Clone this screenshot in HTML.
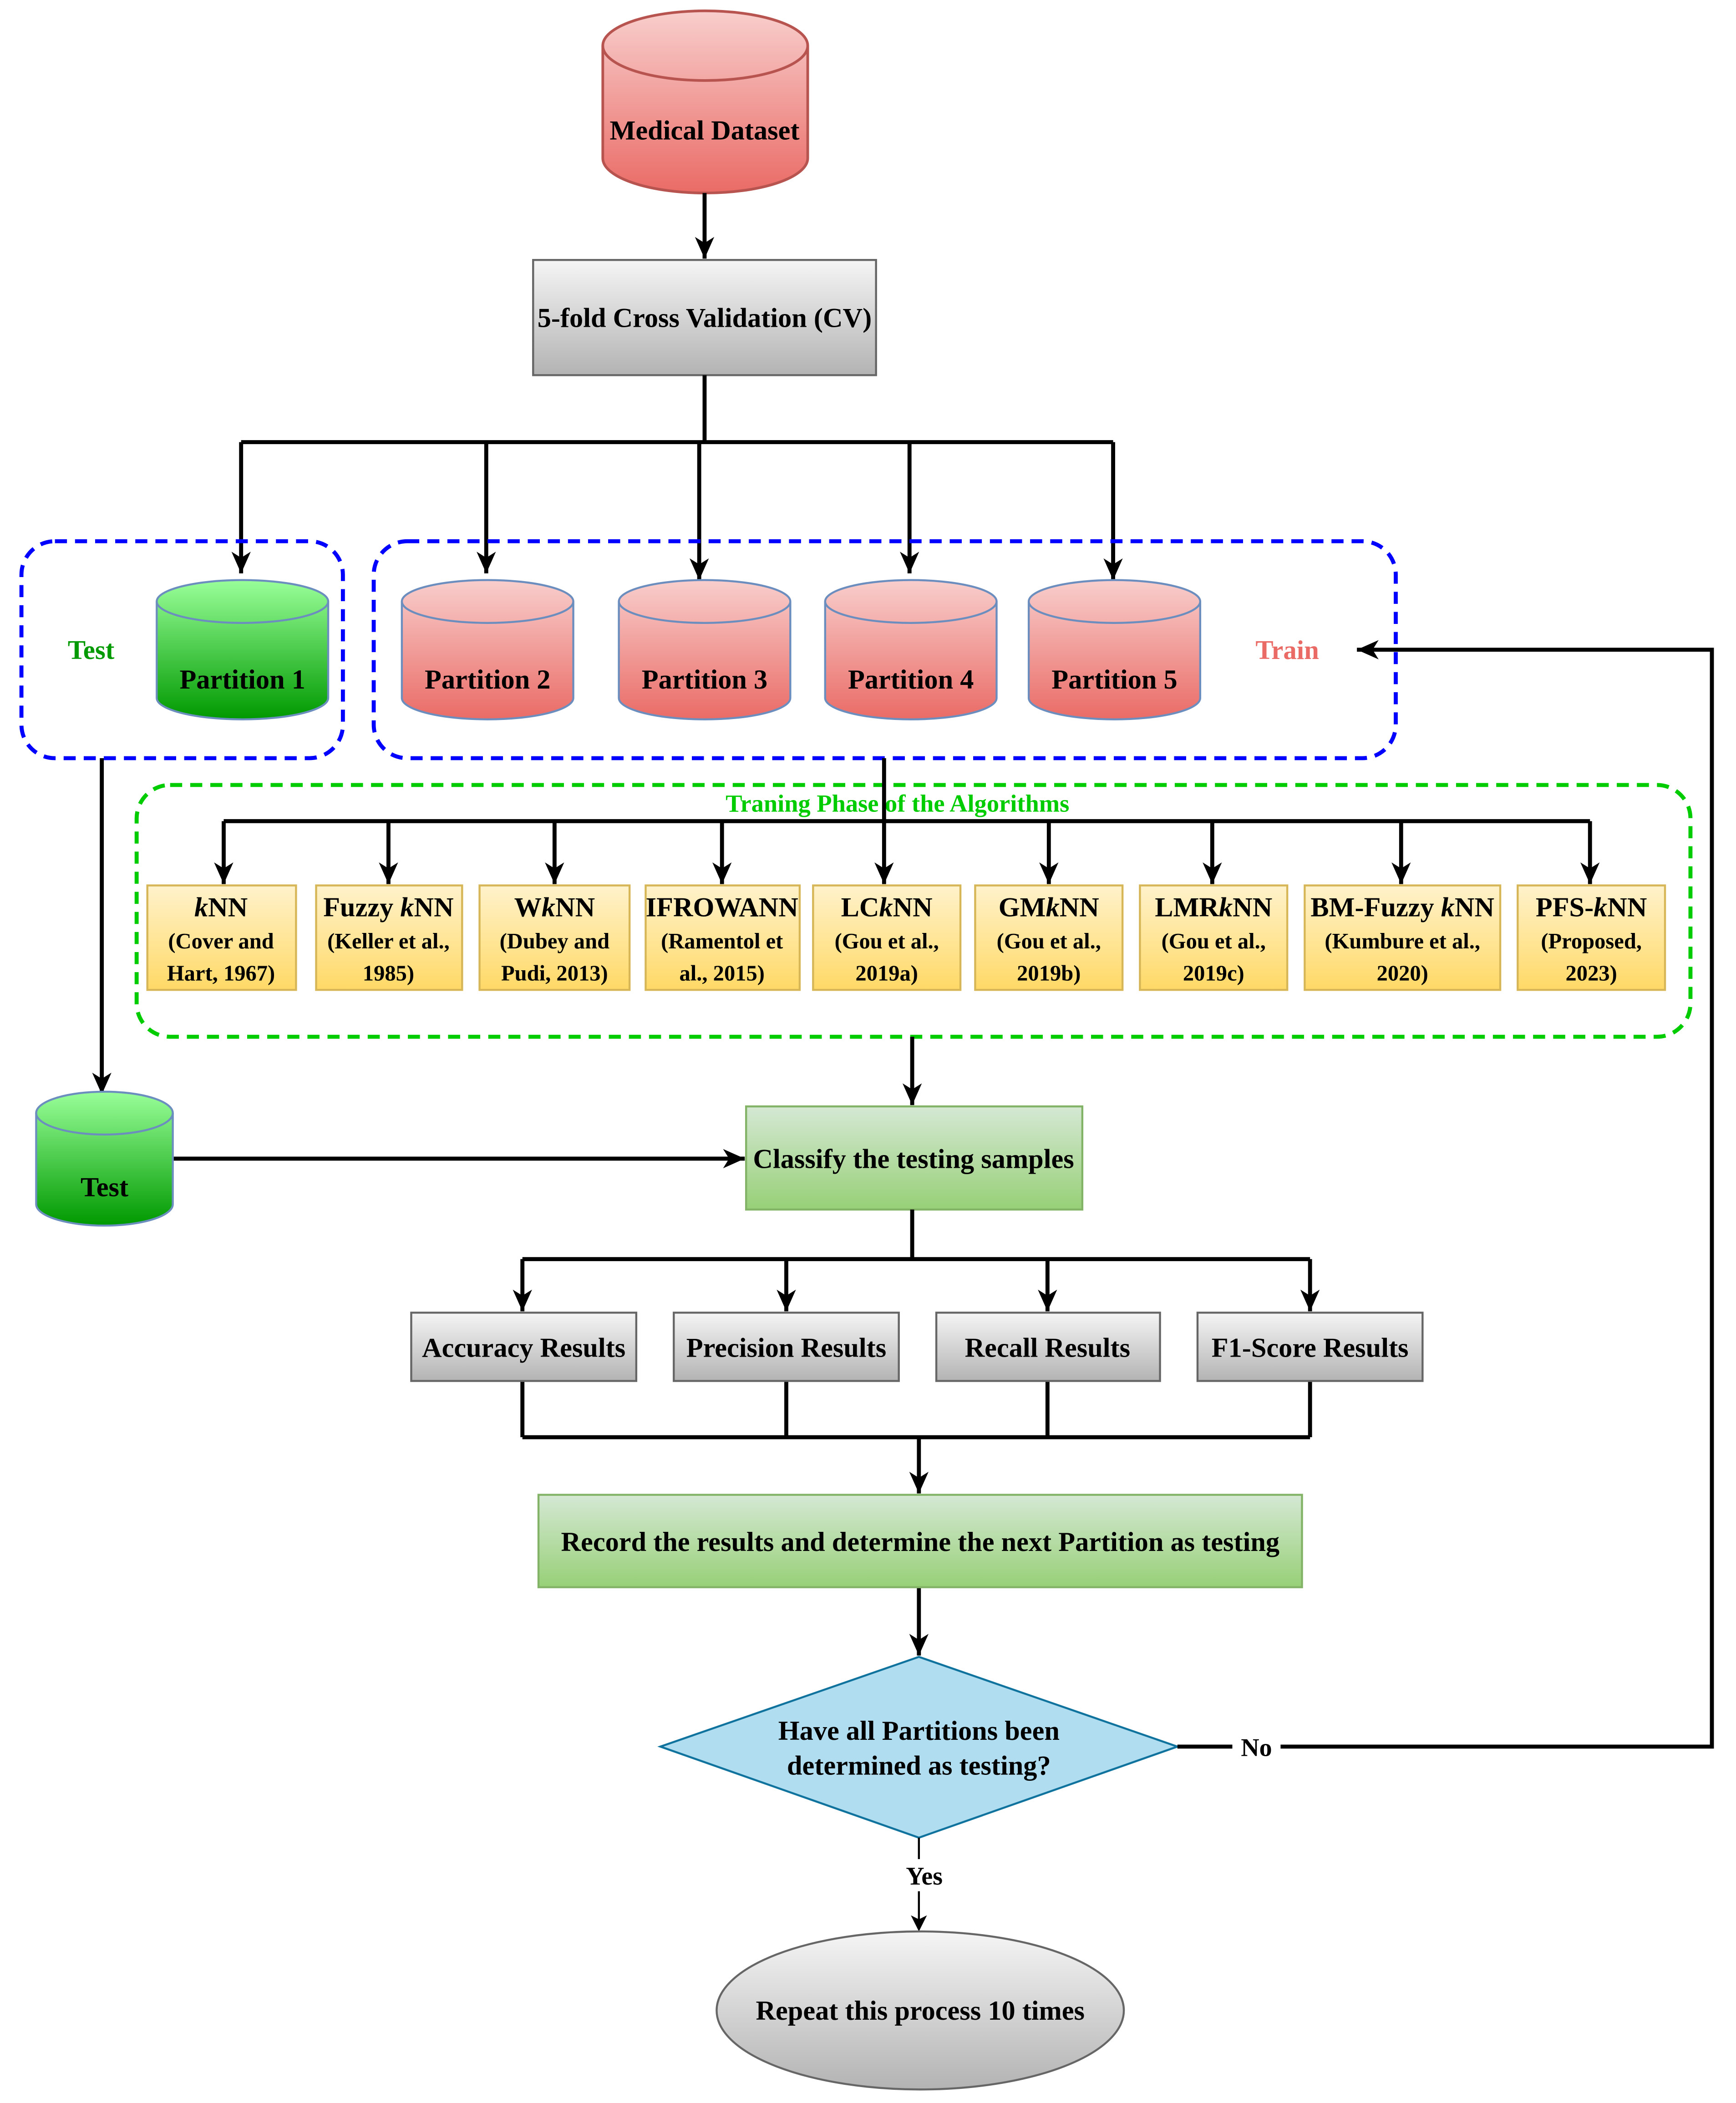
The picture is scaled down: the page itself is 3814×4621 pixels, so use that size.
<!DOCTYPE html>
<html><head><meta charset="utf-8"><style>
html,body{margin:0;padding:0;background:#fff}
svg{display:block}
text{font-family:"Liberation Serif",serif;font-weight:bold;fill:#000}
</style></head><body>
<svg width="3814" height="4621" viewBox="0 0 1296 1570" xmlns="http://www.w3.org/2000/svg">
<defs>
<linearGradient id="red" x1="0" y1="0" x2="0" y2="1"><stop offset="0" stop-color="#f8cecc"/><stop offset="1" stop-color="#ea6b66"/></linearGradient>
<linearGradient id="grn" x1="0" y1="0" x2="0" y2="1"><stop offset="0" stop-color="#99ff99"/><stop offset="1" stop-color="#009900"/></linearGradient>
<linearGradient id="gray" x1="0" y1="0" x2="0" y2="1"><stop offset="0" stop-color="#f5f5f5"/><stop offset="1" stop-color="#b3b3b3"/></linearGradient>
<linearGradient id="yel" x1="0" y1="0" x2="0" y2="1"><stop offset="0" stop-color="#fff2cc"/><stop offset="1" stop-color="#ffd966"/></linearGradient>
<linearGradient id="lg" x1="0" y1="0" x2="0" y2="1"><stop offset="0" stop-color="#d5e8d4"/><stop offset="1" stop-color="#97d077"/></linearGradient>
<marker id="a2" viewBox="0 0 20 20" refX="18" refY="10" markerWidth="18" markerHeight="18" orient="auto" markerUnits="userSpaceOnUse"><path d="M0,2 L18,10 L0,18 L5,10Z" fill="#000"/></marker>
</defs>

<!-- Medical dataset -->
<path d="M450,34 A76.5,26 0 0 1 603,34 L603,118 A76.5,26 0 0 1 450,118 Z" fill="url(#red)" stroke="#b85450" stroke-width="2"/>
<path d="M450,34 A76.5,26 0 0 0 603,34" fill="none" stroke="#b85450" stroke-width="2"/>
<text x="526" y="104" font-size="20.5" text-anchor="middle">Medical Dataset</text>

<g stroke="#000" stroke-width="3" fill="none">
<line x1="526" y1="144" x2="526" y2="193" marker-end="url(#a2)"/>
</g>
<rect x="398" y="194" width="256" height="86" fill="url(#gray)" stroke="#666" stroke-width="1.5"/>
<text x="526" y="244" font-size="20.5" text-anchor="middle">5-fold Cross Validation (CV)</text>

<g stroke="#000" stroke-width="3" fill="none">
<polyline points="526,280 526,330"/>
<line x1="180" y1="330" x2="831" y2="330"/>
<line x1="180" y1="330" x2="180" y2="428" marker-end="url(#a2)"/>
<line x1="363" y1="330" x2="363" y2="428" marker-end="url(#a2)"/>
<line x1="522" y1="330" x2="522" y2="433" marker-end="url(#a2)"/>
<line x1="679" y1="330" x2="679" y2="428" marker-end="url(#a2)"/>
<line x1="831" y1="330" x2="831" y2="433" marker-end="url(#a2)"/>
</g>

<rect x="16" y="404" width="240" height="162" rx="25" fill="none" stroke="#0000ff" stroke-width="3" stroke-dasharray="9,6"/>
<rect x="279" y="404" width="763" height="162" rx="25" fill="none" stroke="#0000ff" stroke-width="3" stroke-dasharray="9,6"/>
<text x="68" y="492" font-size="20" text-anchor="middle" style="fill:#009900">Test</text>
<text x="961" y="492" font-size="20" text-anchor="middle" style="fill:#ea6b66">Train</text>

<g stroke-width="1.5" stroke="#6c8ebf">
<path d="M117,449 A64,16 0 0 1 245,449 L245,521 A64,16 0 0 1 117,521 Z" fill="url(#grn)"/>
<path d="M117,449 A64,16 0 0 0 245,449" fill="none"/>
<path d="M300,449 A64,16 0 0 1 428,449 L428,521 A64,16 0 0 1 300,521 Z" fill="url(#red)"/>
<path d="M300,449 A64,16 0 0 0 428,449" fill="none"/>
<path d="M462,449 A64,16 0 0 1 590,449 L590,521 A64,16 0 0 1 462,521 Z" fill="url(#red)"/>
<path d="M462,449 A64,16 0 0 0 590,449" fill="none"/>
<path d="M616,449 A64,16 0 0 1 744,449 L744,521 A64,16 0 0 1 616,521 Z" fill="url(#red)"/>
<path d="M616,449 A64,16 0 0 0 744,449" fill="none"/>
<path d="M768,449 A64,16 0 0 1 896,449 L896,521 A64,16 0 0 1 768,521 Z" fill="url(#red)"/>
<path d="M768,449 A64,16 0 0 0 896,449" fill="none"/>
</g>
<g font-size="20.5" text-anchor="middle">
<text x="181" y="514">Partition 1</text>
<text x="364" y="514">Partition 2</text>
<text x="526" y="514">Partition 3</text>
<text x="680" y="514">Partition 4</text>
<text x="832" y="514">Partition 5</text>
</g>

<rect x="102" y="586" width="1160" height="188" rx="25" fill="none" stroke="#00cc00" stroke-width="3" stroke-dasharray="9,6"/>
<text x="670" y="606" font-size="18.5" text-anchor="middle" style="fill:#00cc00">Traning Phase of the Algorithms</text>

<g stroke="#000" stroke-width="3" fill="none">
<line x1="660" y1="566" x2="660" y2="613"/>
<line x1="167" y1="613" x2="1187" y2="613"/>
<line x1="167" y1="613" x2="167" y2="660" marker-end="url(#a2)"/>
<line x1="290" y1="613" x2="290" y2="660" marker-end="url(#a2)"/>
<line x1="414" y1="613" x2="414" y2="660" marker-end="url(#a2)"/>
<line x1="539" y1="613" x2="539" y2="660" marker-end="url(#a2)"/>
<line x1="660" y1="613" x2="660" y2="660" marker-end="url(#a2)"/>
<line x1="783" y1="613" x2="783" y2="660" marker-end="url(#a2)"/>
<line x1="905" y1="613" x2="905" y2="660" marker-end="url(#a2)"/>
<line x1="1046" y1="613" x2="1046" y2="660" marker-end="url(#a2)"/>
<line x1="1187" y1="613" x2="1187" y2="660" marker-end="url(#a2)"/>
</g>

<g fill="url(#yel)" stroke="#d6b656" stroke-width="1.5">
<rect x="110" y="661" width="111" height="78"/>
<rect x="236" y="661" width="109" height="78"/>
<rect x="358" y="661" width="112" height="78"/>
<rect x="482" y="661" width="115" height="78"/>
<rect x="607" y="661" width="110" height="78"/>
<rect x="728" y="661" width="110" height="78"/>
<rect x="851" y="661" width="110" height="78"/>
<rect x="974" y="661" width="146" height="78"/>
<rect x="1133" y="661" width="110" height="78"/>
</g>
<g text-anchor="middle">
<text font-size="20.5" x="165" y="684"><tspan font-style="italic">k</tspan>NN</text>
<text font-size="16.5" x="165" y="708">(Cover and</text><text font-size="16.5" x="165" y="732">Hart, 1967)</text>
<text font-size="20.5" x="290" y="684">Fuzzy <tspan font-style="italic">k</tspan>NN</text>
<text font-size="16.5" x="290" y="708">(Keller et al.,</text><text font-size="16.5" x="290" y="732">1985)</text>
<text font-size="20.5" x="414" y="684">W<tspan font-style="italic">k</tspan>NN</text>
<text font-size="16.5" x="414" y="708">(Dubey and</text><text font-size="16.5" x="414" y="732">Pudi, 2013)</text>
<text font-size="20.5" x="539" y="684">IFROWANN</text>
<text font-size="16.5" x="539" y="708">(Ramentol et</text><text font-size="16.5" x="539" y="732">al., 2015)</text>
<text font-size="20.5" x="662" y="684">LC<tspan font-style="italic">k</tspan>NN</text>
<text font-size="16.5" x="662" y="708">(Gou et al.,</text><text font-size="16.5" x="662" y="732">2019a)</text>
<text font-size="20.5" x="783" y="684">GM<tspan font-style="italic">k</tspan>NN</text>
<text font-size="16.5" x="783" y="708">(Gou et al.,</text><text font-size="16.5" x="783" y="732">2019b)</text>
<text font-size="20.5" x="906" y="684">LMR<tspan font-style="italic">k</tspan>NN</text>
<text font-size="16.5" x="906" y="708">(Gou et al.,</text><text font-size="16.5" x="906" y="732">2019c)</text>
<text font-size="20.5" x="1047" y="684">BM-Fuzzy <tspan font-style="italic">k</tspan>NN</text>
<text font-size="16.5" x="1047" y="708">(Kumbure et al.,</text><text font-size="16.5" x="1047" y="732">2020)</text>
<text font-size="20.5" x="1188" y="684">PFS-<tspan font-style="italic">k</tspan>NN</text>
<text font-size="16.5" x="1188" y="708">(Proposed,</text><text font-size="16.5" x="1188" y="732">2023)</text>
</g>

<g stroke="#000" stroke-width="3" fill="none">
<line x1="76" y1="566" x2="76" y2="817" marker-end="url(#a2)"/>
<line x1="681" y1="774" x2="681" y2="825" marker-end="url(#a2)"/>
<line x1="129" y1="865" x2="556" y2="865" marker-end="url(#a2)"/>
</g>
<path d="M27,831 A51,16 0 0 1 129,831 L129,899 A51,16 0 0 1 27,899 Z" fill="url(#grn)" stroke="#6c8ebf" stroke-width="1.5"/>
<path d="M27,831 A51,16 0 0 0 129,831" fill="none" stroke="#6c8ebf" stroke-width="1.5"/>
<text x="78" y="893" font-size="20.5" text-anchor="middle">Test</text>

<rect x="557" y="826" width="251" height="77" fill="url(#lg)" stroke="#82b366" stroke-width="1.5"/>
<text x="682" y="872" font-size="20.5" text-anchor="middle">Classify the testing samples</text>

<g stroke="#000" stroke-width="3" fill="none">
<line x1="681" y1="903" x2="681" y2="940"/>
<line x1="390" y1="940" x2="978" y2="940"/>
<line x1="390" y1="940" x2="390" y2="979" marker-end="url(#a2)"/>
<line x1="587" y1="940" x2="587" y2="979" marker-end="url(#a2)"/>
<line x1="782" y1="940" x2="782" y2="979" marker-end="url(#a2)"/>
<line x1="978" y1="940" x2="978" y2="979" marker-end="url(#a2)"/>
<line x1="390" y1="1031" x2="390" y2="1073"/>
<line x1="587" y1="1031" x2="587" y2="1073"/>
<line x1="782" y1="1031" x2="782" y2="1073"/>
<line x1="978" y1="1031" x2="978" y2="1073"/>
<line x1="390" y1="1073" x2="978" y2="1073"/>
<line x1="686" y1="1073" x2="686" y2="1115" marker-end="url(#a2)"/>
<line x1="686" y1="1185" x2="686" y2="1236" marker-end="url(#a2)"/>
</g>
<g fill="url(#gray)" stroke="#666" stroke-width="1.5">
<rect x="307" y="980" width="168" height="51"/>
<rect x="503" y="980" width="168" height="51"/>
<rect x="699" y="980" width="167" height="51"/>
<rect x="894" y="980" width="168" height="51"/>
</g>
<g font-size="20.5" text-anchor="middle">
<text x="391" y="1013">Accuracy Results</text>
<text x="587" y="1013">Precision Results</text>
<text x="782" y="1013">Recall Results</text>
<text x="978" y="1013">F1-Score Results</text>
</g>

<rect x="402" y="1116" width="570" height="69" fill="url(#lg)" stroke="#82b366" stroke-width="1.5"/>
<text x="687" y="1158" font-size="20.5" text-anchor="middle">Record the results and determine the next Partition as testing</text>

<polygon points="686,1237 879,1304 686,1372 493,1304" fill="#b1ddf0" stroke="#10739e" stroke-width="1.5"/>
<text x="686" y="1299" font-size="20.5" text-anchor="middle">Have all Partitions been</text>
<text x="686" y="1325" font-size="20.5" text-anchor="middle">determined as testing?</text>

<g stroke="#000" stroke-width="3" fill="none">
<polyline points="879,1304 1278,1304 1278,485 1013,485" marker-end="url(#a2)"/>
</g>
<rect x="920" y="1292" width="36" height="24" fill="#fff"/>
<text x="938" y="1311" font-size="19" text-anchor="middle">No</text>

<g stroke="#000" stroke-width="1.5" fill="none">
<line x1="686" y1="1372" x2="686" y2="1440"/>
</g>
<path d="M680,1430 L686,1442 L692,1430 L686,1433Z" fill="#000"/>
<rect x="670" y="1388" width="40" height="24" fill="#fff"/>
<text x="690" y="1407" font-size="19" text-anchor="middle">Yes</text>

<ellipse cx="687" cy="1501" rx="152" ry="59" fill="url(#gray)" stroke="#666" stroke-width="1.5"/>
<text x="687" y="1508" font-size="20.5" text-anchor="middle">Repeat this process 10 times</text>
</svg>
</body></html>
